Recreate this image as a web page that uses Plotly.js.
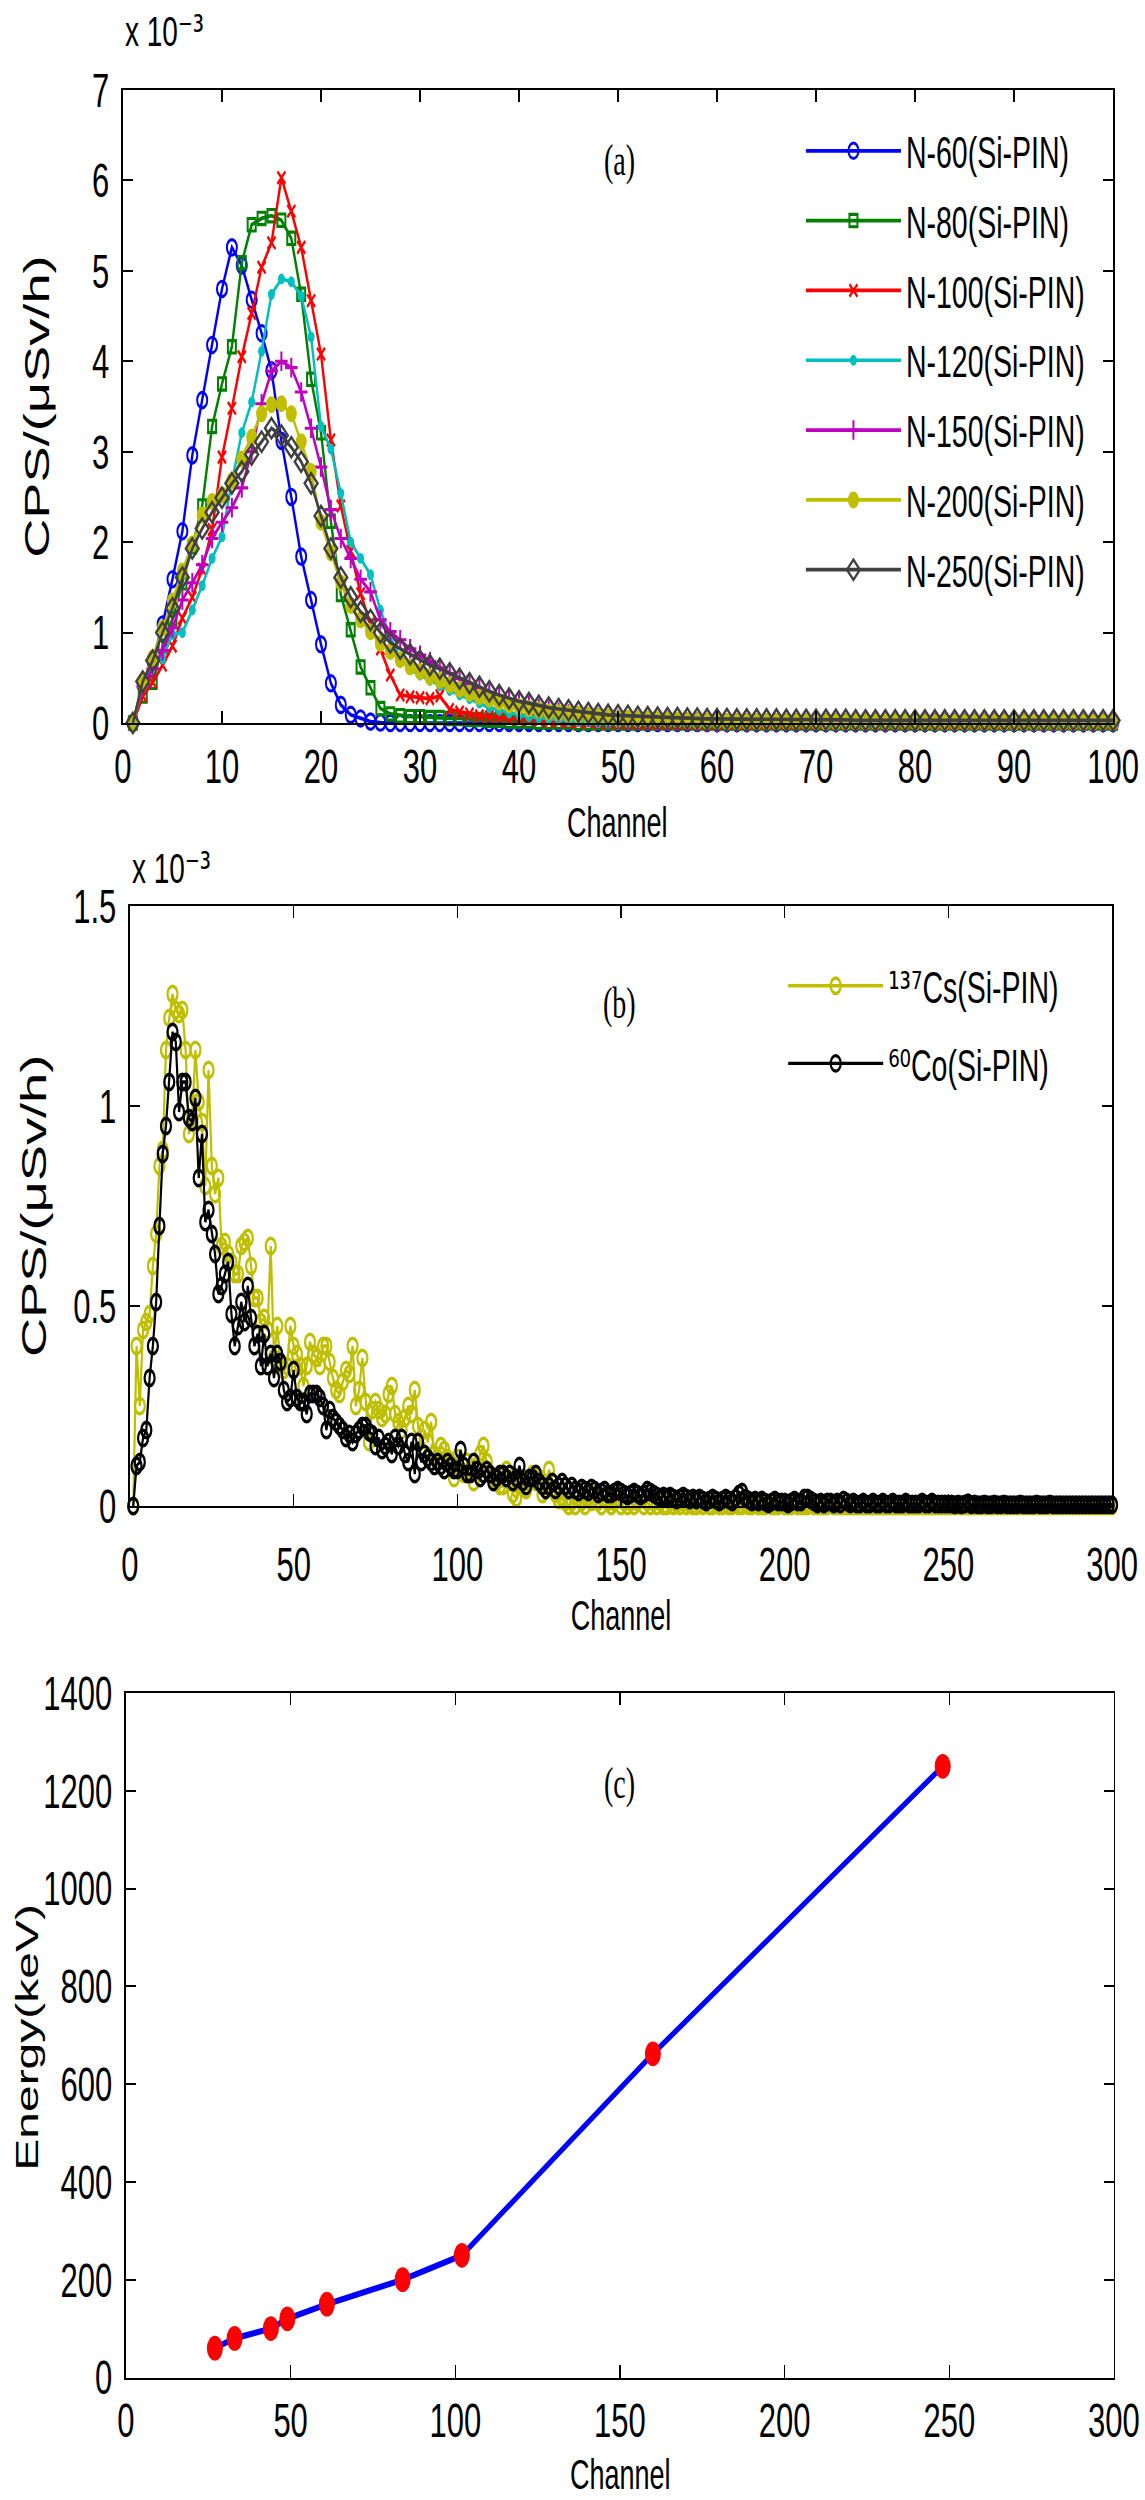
<!DOCTYPE html>
<html><head><meta charset="utf-8">
<script src="https://cdn.plot.ly/plotly-3.0.1.min.js"></script>
<style>
html,body{margin:0;padding:0;background:#fff;}
#wrap{width:1145px;height:2500px;overflow:hidden;position:relative;background:#fff;}
#plot{width:1145px;height:1613px;transform:scaleY(1.54991);transform-origin:0 0;}
</style>
</head><body>
<div id="wrap"><div id="plot"></div></div>
<script>
// ---------- Panel (a): CPS/(uSv/h) in units of 1e-3, channels 1..100 ----------
const n60 = [
0,0.42,0.68,1.09,1.59,2.12,2.96,3.57,4.18,4.80,
5.26,5.06,4.68,4.31,3.90,3.12,2.50,1.84,1.36,0.87,
0.44,0.20,0.09,0.05,0.015,0.005,0,0,0,0,
0,0,0,0,0,0,0,0,0,0, 0,0,0,0,0,0,0,0,0,0,
0,0,0,0,0,0,0,0,0,0, 0,0,0,0,0,0,0,0,0,0,
0,0,0,0,0,0,0,0,0,0, 0,0,0,0,0,0,0,0,0,0,
0,0,0,0,0,0,0,0,0,0];
const n80 = [
0,0.30,0.45,0.85,1.15,1.55,1.95,2.40,3.28,3.75,
4.16,5.09,5.51,5.58,5.61,5.56,5.36,4.74,3.80,3.21,
2.23,1.42,1.03,0.62,0.39,0.16,0.10,0.08,0.07,0.07,
0.06,0.06,0.05,0.05,0.04,0.04,0.03,0.03,0.02,0.02,
0.02,0.01,0.01,0.01,0.01,0,0,0,0,0,
0,0,0,0,0,0,0,0,0,0, 0,0,0,0,0,0,0,0,0,0,
0,0,0,0,0,0,0,0,0,0, 0,0,0,0,0,0,0,0,0,0,
0,0,0,0,0,0,0,0,0,0];
const n100 = [
0,0.30,0.45,0.64,0.85,1.16,1.39,1.70,2.14,2.94,
3.48,4.05,4.53,5.04,5.31,6.03,5.66,5.26,4.67,4.08,
3.13,2.40,1.90,1.43,1.10,0.82,0.53,0.31,0.29,0.28,
0.27,0.30,0.15,0.12,0.10,0.08,0.07,0.06,0.05,0.04,
0.04,0.03,0.02,0.02,0.01,0.01,0.01,0,0,0,
0,0,0,0,0,0,0,0,0,0, 0,0,0,0,0,0,0,0,0,0,
0,0,0,0,0,0,0,0,0,0, 0,0,0,0,0,0,0,0,0,0,
0,0,0,0,0,0,0,0,0,0];
const n120 = [
0,0.40,0.64,0.71,0.98,1.00,1.25,1.52,1.82,2.06,
2.67,3.21,3.55,4.11,4.74,4.91,4.88,4.72,4.27,3.28,
3.03,2.54,2.00,1.82,1.64,1.25,0.95,0.72,0.59,0.53,
0.47,0.41,0.36,0.31,0.27,0.22,0.17,0.14,0.11,0.09,
0.07,0.06,0.05,0.03,0.02,0.015,0.01,0.005,0,0,
0,0,0,0,0,0,0,0,0,0, 0,0,0,0,0,0,0,0,0,0,
0,0,0,0,0,0,0,0,0,0, 0,0,0,0,0,0,0,0,0,0,
0,0,0,0,0,0,0,0,0,0];
const n150 = [
0,0.40,0.60,0.80,1.05,1.36,1.55,1.75,2.04,2.22,
2.38,2.60,3.00,3.53,3.89,4.00,3.93,3.66,3.26,2.83,
2.36,2.04,1.82,1.59,1.45,1.14,1.01,0.92,0.82,0.75,
0.68,0.61,0.55,0.49,0.43,0.38,0.33,0.29,0.25,0.22,
0.19,0.16,0.14,0.12,0.10,0.08,0.07,0.06,0.05,0.04,
0.035,0.03,0.025,0.02,0.02,0.015,0.01,0.01,0.005,0,
0,0,0,0,0,0,0,0,0,0, 0,0,0,0,0,0,0,0,0,0,
0,0,0,0,0,0,0,0,0,0, 0,0,0,0,0,0,0,0,0,0];
const n200 = [
0,0.45,0.72,1.05,1.35,1.68,1.98,2.30,2.45,2.52,
2.68,2.92,3.16,3.42,3.52,3.53,3.42,3.11,2.78,2.22,
1.88,1.55,1.30,1.14,1.01,0.88,0.79,0.70,0.62,0.57,
0.51,0.47,0.42,0.37,0.33,0.29,0.26,0.23,0.20,0.18,
0.16,0.14,0.12,0.11,0.10,0.09,0.08,0.07,0.06,0.05,
0.05,0.04,0.04,0.035,0.03,0.03,0.025,0.02,0.02,0.02,
0.015,0.015,0.015,0.015,0.015,0.015,0.015,0.015,0.015,0.015,
0.01,0.01,0.01,0.01,0.01,0.01,0.01,0.01,0.01,0.01,
0.005,0.005,0.005,0.005,0.005,0.005,0.005,0.005,0.005,0.005,
0.005,0.005,0.005,0.005,0.005,0.005,0.005,0.005,0.005,0.005];
const n250 = [
0,0.46,0.69,1.00,1.27,1.61,1.93,2.15,2.33,2.49,
2.65,2.78,2.97,3.11,3.26,3.18,3.05,2.89,2.65,2.29,
1.93,1.61,1.39,1.23,1.14,1.00,0.89,0.82,0.76,0.69,
0.64,0.60,0.55,0.49,0.44,0.40,0.35,0.31,0.27,0.24,
0.22,0.19,0.17,0.155,0.14,0.125,0.11,0.10,0.09,0.085,
0.08,0.07,0.065,0.06,0.055,0.055,0.05,0.05,0.045,0.045,
0.045,0.04,0.04,0.04,0.04,0.04,0.035,0.035,0.035,0.035,
0.035,0.035,0.035,0.03,0.03,0.03,0.03,0.03,0.03,0.03,
0.03,0.03,0.03,0.03,0.03,0.03,0.03,0.03,0.03,0.03,
0.03,0.03,0.03,0.03,0.03,0.03,0.03,0.03,0.03,0.03];
const namesA = ['N-60(Si-PIN)','N-80(Si-PIN)','N-100(Si-PIN)','N-120(Si-PIN)','N-150(Si-PIN)','N-200(Si-PIN)','N-250(Si-PIN)'];
const channelA = n60.map((_, i) => i + 1);

// ---------- Panel (b): units of 1e-3, channels 1..300 ----------
const cs137 = [
0,0.40,0.25,0.44,0.46,0.48,0.60,0.68,0.85,0.89,
1.14,1.22,1.28,1.24,1.23,1.24,1.14,0.93,0.97,1.14,
1.01,0.96,0.80,1.09,0.85,0.78,0.82,0.65,0.66,0.63,
0.61,0.58,0.58,0.65,0.66,0.67,0.60,0.52,0.52,0.46,
0.47,0.44,0.65,0.37,0.45,0.35,0.34,0.35,0.45,0.40,
0.38,0.35,0.30,0.35,0.41,0.38,0.37,0.35,0.40,0.40,
0.36,0.32,0.29,0.28,0.31,0.34,0.33,0.40,0.25,0.29,
0.37,0.26,0.16,0.24,0.26,0.24,0.22,0.23,0.28,0.30,
0.23,0.21,0.19,0.22,0.25,0.23,0.29,0.20,0.14,0.19,
0.16,0.21,0.13,0.12,0.15,0.14,0.12,0.11,0.07,0.12,
0.09,0.08,0.11,0.09,0.06,0.10,0.13,0.15,0.11,0.08,
0.07,0.06,0.05,0.05,0.09,0.06,0.03,0.02,0.05,0.07,
0.04,0.06,0.08,0.06,0.07,0.03,0.05,0.09,0.06,0.03,
0.015,0.02,0.01,0,0.01,0,0.02,0.01,0,0.02,
0.01,0.03,0.01,0,0.02,0.01,0,0.01,0.02,0,
0.01,0,0.01,0,0.01,0.02,0,0.01,0,0.01,
0,0.01,0,0,0.01,0,0.005,0,0.01,0,
0.005,0,0,0.005,0,0.01,0,0,0.005,0,
0,0.005,0,0,0.005,0,0,0.005,0,0,
0.005,0,0,0,0.005,0,0,0,0.005,0,
0,0,0.005,0,0,0,0,0.005,0,0,
0,0,0,0.005,0,0,0,0,0,0,
0,0,0,0,0,0,0,0,0,0, 0,0,0,0,0,0,0,0,0,0,
0,0,0,0,0,0,0,0,0,0, 0,0,0,0,0,0,0,0,0,0,
0,0,0,0,0,0,0,0,0,0, 0,0,0,0,0,0,0,0,0,0,
0,0,0,0,0,0,0,0,0,0, 0,0,0,0,0,0,0,0,0,0];
const co60 = [
0,0.10,0.11,0.17,0.19,0.32,0.40,0.51,0.70,0.88,
0.95,1.06,1.185,1.16,0.985,1.06,1.06,0.97,0.96,1.02,
0.82,0.93,0.71,0.74,0.68,0.63,0.53,0.55,0.58,0.61,
0.48,0.40,0.45,0.51,0.46,0.55,0.47,0.40,0.43,0.35,
0.43,0.35,0.38,0.32,0.38,0.36,0.29,0.26,0.27,0.34,
0.27,0.26,0.26,0.23,0.28,0.28,0.28,0.27,0.25,0.19,
0.24,0.22,0.21,0.20,0.19,0.17,0.18,0.16,0.18,0.19,
0.20,0.20,0.185,0.18,0.15,0.17,0.14,0.15,0.16,0.13,
0.17,0.15,0.17,0.13,0.11,0.16,0.08,0.16,0.11,0.13,
0.12,0.11,0.10,0.11,0.10,0.09,0.11,0.10,0.09,0.09,
0.14,0.10,0.08,0.08,0.11,0.09,0.07,0.08,0.09,0.08,
0.06,0.07,0.08,0.08,0.07,0.08,0.06,0.07,0.10,0.06,
0.05,0.07,0.07,0.08,0.06,0.05,0.04,0.05,0.06,0.04,
0.05,0.06,0.05,0.04,0.05,0.04,0.035,0.045,0.04,0.035,
0.045,0.04,0.03,0.035,0.04,0.03,0.03,0.035,0.04,0.035,
0.03,0.025,0.03,0.035,0.03,0.025,0.03,0.04,0.035,0.03,
0.025,0.02,0.025,0.02,0.025,0.02,0.015,0.02,0.025,0.02,
0.015,0.02,0.015,0.02,0.015,0.01,0.015,0.02,0.015,0.01,
0.015,0.02,0.015,0.01,0.02,0.03,0.035,0.02,0.015,0.01,
0.015,0.01,0.015,0.01,0.005,0.01,0.015,0.01,0.01,0.01,
0.005,0.01,0.015,0.01,0.01,0.02,0.02,0.015,0.01,0.005,
0.01,0.005,0.01,0.01,0.005,0.01,0.005,0.015,0.01,0.005,
0.01,0.005,0.005,0.01,0.005,0.005,0.01,0.005,0.005,0.01,
0.005,0.005,0.01,0.005,0.005,0.005,0.01,0.005,0.005,0.005,
0.005,0.01,0.005,0.005,0.01,0.005,0.005,0.005,0.005,0.005,
0.005,0.003,0.005,0.003,0.005,0.008,0.003,0.005,0.003,0.003,
0.005,0.003,0.003,0.005,0.003,0.003,0.005,0.003,0.003,0.003,
0.003,0.005,0.003,0.003,0.003,0.003,0.005,0.003,0.003,0.003,
0.005,0.003,0.003,0.003,0.003,0.003,0.003,0.003,0.003,0.003,
0.003,0.003,0.003,0.003,0.003,0.003,0.003,0.003,0.003,0.003];
const channelB = co60.map((_, i) => i + 1);
const SUPFONT = "<span style='font-family:DejaVu Sans'>";
const namesB = [SUPFONT + '\u00b9\u00b3\u2077</span>Cs(Si-PIN)', SUPFONT + '\u2076\u2070</span>Co(Si-PIN)'];

// ---------- Panel (c): energy calibration ----------
const calChannel = [27, 33, 44, 49, 61, 84, 102, 160, 248];
const calEnergy  = [60, 80, 100, 120, 150, 200, 250, 662, 1250];

// ---------- tick labels / titles ----------
const yTicksA = [0,1,2,3,4,5,6,7];
const yTicksB = [0, 0.5, 1, 1.5];
const yTickTextB = ['0', '0.5', '1', '1.5'];
const scaleLabel = 'x 10' + SUPFONT + '\u207b\u00b3</span>';
const yTitleCPS = 'CPS/(\u03bcSv/h)';
const yTitleE = 'Energy(keV)';
const xTitle = 'Channel';

const SANS = 'Liberation Sans, Arial, Helvetica, sans-serif';
const NARROW = 'Liberation Sans Narrow, Arial Narrow, Liberation Sans, Arial, sans-serif';
const SERIF = 'Liberation Serif, Times New Roman, serif';

const colorsA = ['#0000ff', '#008000', '#ff0000', '#00bfbf', '#bf00bf', '#bfbf00', '#404040'];
const symbolsA = ['circle-open', 'square-open', 'x-thin-open', 'circle', 'cross-thin-open', 'circle', 'diamond-open'];
const sizesA = [10, 8, 8, 5, 9, 9, 10];
const seriesA = [n60, n80, n100, n120, n150, n200, n250];

const traces = [];
seriesA.forEach((ys, k) => {
  traces.push({
    x: channelA, y: ys, xaxis: 'x', yaxis: 'y', type: 'scatter', mode: 'lines+markers',
    name: namesA[k], legend: 'legend', legendgroup: 'a' + k, cliponaxis: false,
    line: {color: colorsA[k], width: 2.4},
    marker: {symbol: symbolsA[k], size: sizesA[k], color: colorsA[k], line: {color: colorsA[k], width: 2}}
  });
});
const colorsB = ['#bfbf00', '#000000'];
[cs137, co60].forEach((ys, k) => {
  traces.push({
    x: channelB, y: ys, xaxis: 'x2', yaxis: 'y2', type: 'scatter', mode: 'lines+markers',
    name: namesB[k], legend: 'legend2', legendgroup: 'b' + k, cliponaxis: false,
    line: {color: colorsB[k], width: 2.2},
    marker: {symbol: 'circle-open', size: 10, color: colorsB[k], line: {color: colorsB[k], width: 2.2}}
  });
});
traces.push({
  x: calChannel, y: calEnergy, xaxis: 'x3', yaxis: 'y3', type: 'scatter', mode: 'lines+markers',
  name: 'Calibration', showlegend: false, cliponaxis: false,
  line: {color: '#0000ff', width: 4},
  marker: {symbol: 'circle', size: 16, color: '#ff0000'}
});

const tickFont = {family: NARROW, size: 31, color: '#000'};
const chanFont = {family: SANS, size: 27, color: '#000'};
function xAx(domain, range, dtick, anchor, standoffLbl, title) {
  return {
    domain: domain, range: range, dtick: dtick, tick0: 0, anchor: anchor,
    showline: true, linecolor: '#000', linewidth: 1.5, mirror: 'ticks',
    ticks: 'inside', ticklen: 8, tickwidth: 1.3, tickcolor: '#000',
    showgrid: false, zeroline: false, tickfont: tickFont,
    ticklabelstandoff: standoffLbl, automargin: false,
    title: title
  };
}
function yAx(domain, range, anchor, extra) {
  return Object.assign({
    domain: domain, range: range, anchor: anchor,
    showline: true, linecolor: '#000', linewidth: 1.5, mirror: 'ticks',
    ticks: 'inside', ticklen: 10, tickwidth: 1.3, tickcolor: '#000',
    showgrid: false, zeroline: false, tickfont: tickFont,
    ticklabelstandoff: 6, automargin: false
  }, extra);
}
function ann(x, y, text, font, extra) {
  return Object.assign({xref: 'paper', yref: 'paper', x: x, y: y, text: text, showarrow: false,
    font: font, xanchor: 'center', yanchor: 'middle'}, extra || {});
}
const yTitleFont = {family: SANS, size: 35, color: '#000'};
const labelFont = {family: SERIF, size: 28, color: '#000'};
const scaleFont = {family: SANS, size: 28, color: '#000'};

const layout = {
  width: 1145, height: 1613,
  margin: {l: 0, r: 0, t: 0, b: 0, pad: 0},
  paper_bgcolor: '#fff', plot_bgcolor: '#fff',
  font: {family: SANS, color: '#000'},
  xaxis: xAx([0.1074, 0.9721], [0, 100], 10, 'y', 0, {text: ''}),
  yaxis: yAx([0.7108, 0.9640], [0, 7], 'x', {tickvals: yTicksA}),
  xaxis2: xAx([0.1135, 0.9712], [0, 300], 50, 'y2', 10, {text: xTitle, font: chanFont, standoff: 3}),
  yaxis2: yAx([0.3976, 0.6376], [0, 1.5], 'x2', {tickvals: yTicksB, ticktext: yTickTextB}),
  xaxis3: xAx([0.1100, 0.9729], [0, 300], 50, 'y3', 0, {text: ''}),
  yaxis3: yAx([0.0490, 0.3228], [0, 1400], 'x3', {dtick: 200, tick0: 0}),
  showlegend: true,
  legend: {x: 0.6995, y: 0.9552, xanchor: 'left', yanchor: 'top', bgcolor: 'rgba(0,0,0,0)',
    borderwidth: 0, font: {family: SANS, size: 28.5, color: '#000'}, itemwidth: 95,
    traceorder: 'grouped', tracegroupgap: 5},
  legend2: {x: 0.684, y: 0.6212, xanchor: 'left', yanchor: 'top', bgcolor: 'rgba(0,0,0,0)',
    borderwidth: 0, font: {family: SANS, size: 28.5, color: '#000'}, itemwidth: 95,
    traceorder: 'grouped', tracegroupgap: 10},
  annotations: [
    ann(0.5397, 0.6708, xTitle, chanFont),
    ann(0.5415, 0.0100, xTitle, chanFont),
    ann(0.0323, 0.8376, yTitleCPS, yTitleFont, {textangle: -90}),
    ann(0.0293, 0.5176, yTitleCPS, yTitleFont, {textangle: -90}),
    ann(0.0245, 0.1850, yTitleE, {family: SANS, size: 31, color: '#000'}, {textangle: -90}),
    ann(0.541, 0.936, '(a)', labelFont),
    ann(0.541, 0.5985, '(b)', labelFont),
    ann(0.541, 0.2866, '(c)', labelFont),
    ann(0.1074, 0.987, scaleLabel, scaleFont, {xanchor: 'left'}),
    ann(0.1135, 0.6524, scaleLabel, scaleFont, {xanchor: 'left'})
  ]
};

Plotly.newPlot('plot', traces, layout, {staticPlot: true, displayModeBar: false});
</script>
</body></html>
